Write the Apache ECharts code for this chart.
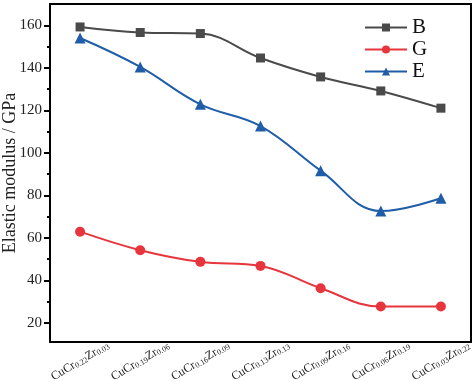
<!DOCTYPE html>
<html><head><meta charset="utf-8">
<script src="https://cdn.jsdelivr.net/npm/echarts@6/dist/echarts.min.js"></script>
<style>html,body{margin:0;padding:0;background:#fff}#c{width:474px;height:381px}</style>
</head><body><div id="c"></div>
<script>
var categories = [['0.22','0.03'],['0.19','0.06'],['0.16','0.09'],['0.13','0.13'],['0.09','0.16'],['0.06','0.19'],['0.03','0.22']];
var B = [159.2, 156.6, 156.1, 144.6, 135.7, 129.1, 121.0];
var G = [62.9, 54.2, 48.7, 46.8, 36.3, 27.7, 27.7];
var E = [154.0, 140.4, 122.8, 112.6, 91.6, 72.6, 78.6];
var yMajor = [20, 40, 60, 80, 100, 120, 140, 160];
var yMinor = [30, 50, 70, 90, 110, 130, 150];

var F = '"Liberation Serif","Times New Roman",serif';
var catNames = categories.map(function(c){ return 'CuCr{s|' + c[0] + '}Zr{s|' + c[1] + '}'; });

var chart = echarts.init(document.getElementById('c'));
chart.setOption({
  animation: false,
  grid: {left: 50, right: 3, top: 4, bottom: 39, containLabel: false, outerBoundsMode: 'none'},
  legend: {
    orient: 'vertical', left: 359, top: 12, itemWidth: 42, itemHeight: 10, itemGap: 1,
    textStyle: {fontFamily: F, fontSize: 21, lineHeight: 21, color: '#111'},
    data: ['B', 'G', 'E']
  },
  xAxis: [{
    type: 'category', data: catNames, boundaryGap: true,
    axisLine: {lineStyle: {color: '#000', width: 2}},
    axisTick: {inside: true, alignWithLabel: true, length: 6, lineStyle: {color: '#000', width: 2}},
    axisLabel: {
      rotate: 31, margin: 19, align: 'center', interval: 0,
      fontFamily: F, fontSize: 12, color: '#222',
      rich: {s: {fontFamily: F, fontSize: 8, color: '#222', verticalAlign: 'bottom', padding: [5,0,0,0]}}
    }
  }, {
    type: 'category', data: catNames, position: 'top', boundaryGap: true,
    axisLine: {lineStyle: {color: '#000', width: 2}}, axisTick: {show: false}, axisLabel: {show: false}
  }],
  yAxis: [{
    type: 'value', min: 11, max: 170,
    name: 'Elastic modulus / GPa', nameLocation: 'middle', nameGap: 31, nameMoveOverlap: false,
    nameTextStyle: {fontFamily: F, fontSize: 18, color: '#222'},
    axisLine: {show: true, lineStyle: {color: '#000', width: 2}},
    axisTick: {show: true, customValues: yMajor, length: 6, lineStyle: {color: '#000', width: 2}},
    axisLabel: {customValues: yMajor, fontFamily: F, fontSize: 15, color: '#222', margin: 8},
    splitLine: {show: false}
  }, {
    type: 'value', min: 11, max: 170, position: 'left',
    axisLine: {show: false},
    axisTick: {show: true, customValues: yMinor, length: 3, lineStyle: {color: '#000', width: 2}},
    axisLabel: {show: false}, splitLine: {show: false}
  }, {
    type: 'value', min: 11, max: 170, position: 'right',
    axisLine: {show: true, lineStyle: {color: '#000', width: 2}},
    axisTick: {show: false}, axisLabel: {show: false}, splitLine: {show: false}
  }],
  series: [
    {name: 'B', type: 'line', data: B, smooth: 0.4, symbol: 'rect', symbolSize: 9,
     itemStyle: {color: '#4a4a4a'}, lineStyle: {color: '#4a4a4a', width: 2}},
    {name: 'G', type: 'line', data: G, smooth: 0.4, symbol: 'circle', symbolSize: 10,
     itemStyle: {color: '#e6353d'}, lineStyle: {color: '#e6353d', width: 2}},
    {name: 'E', type: 'line', data: E, smooth: 0.4, symbol: 'triangle', symbolSize: 11,
     itemStyle: {color: '#1f5da8'}, lineStyle: {color: '#1f5da8', width: 2}}
  ]
});
</script></body></html>
